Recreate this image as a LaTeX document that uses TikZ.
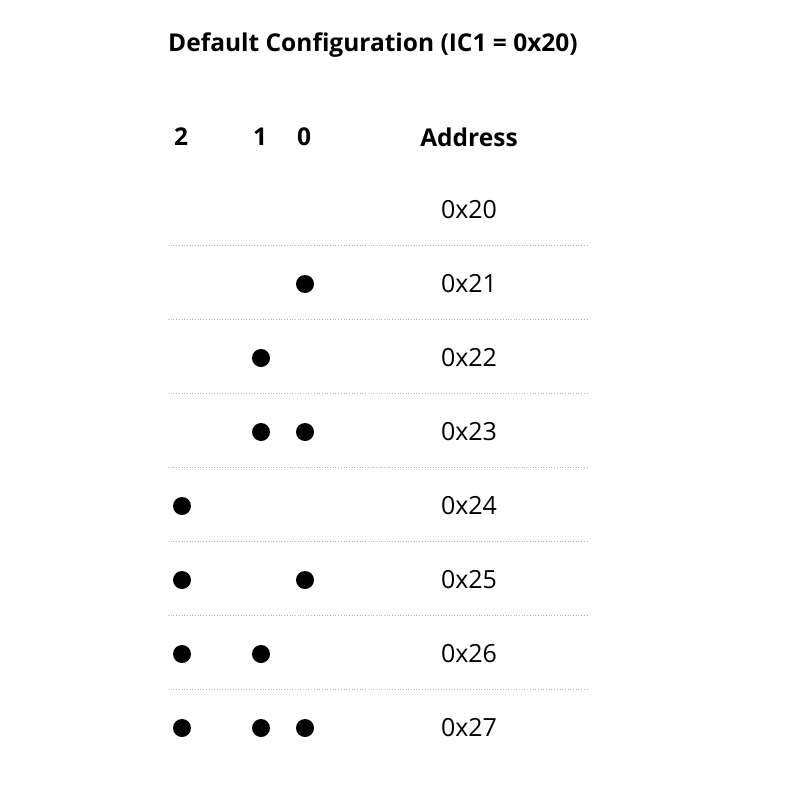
\documentclass[tikz,border=0pt]{standalone}
\usepackage{fontspec}
\setmainfont{Open Sans}
\begin{document}
\begin{tikzpicture}[x=1pt,y=-1pt,
  title/.style={font=\fontsize{24.5}{28}\selectfont\bfseries, anchor=west, inner sep=0},
  head/.style={font=\fontsize{24.5}{28}\selectfont\bfseries, inner sep=0},
  val/.style={font=\fontsize{25}{29}\selectfont, inner sep=0},
  sep/.style={gray!60, dotted, line width=0.7pt},
  pin/.style={circle, fill=black, minimum size=18pt, inner sep=0}]
\useasboundingbox (0,0) rectangle (800,800);
\node[title] (t) at (168,45) {Default Configuration (IC1 = 0x20)};
\node[head] (h2) at (181,137) {2};
\node[head] (h1) at (260,137) {1};
\node[head] (h0) at (304,137) {0};
\node[head] (ha) at (469,137) {Address};
\foreach \i in {0,...,7}{
  \pgfmathsetmacro{\yy}{210+74*\i}
  \node[val] (a\i) at (469,\yy) {0x2\i};
  \pgfmathtruncatemacro{\bz}{mod(\i,2)}
  \pgfmathtruncatemacro{\bo}{mod(floor(\i/2),2)}
  \pgfmathtruncatemacro{\bt}{floor(\i/4)}
  \ifnum\bz=1 \node[pin] (p0\i) at (305,\yy) {};\fi
  \ifnum\bo=1 \node[pin] (p1\i) at (261,\yy) {};\fi
  \ifnum\bt=1 \node[pin] (p2\i) at (182,\yy) {};\fi
}
\foreach \i in {0,...,6}{
  \pgfmathsetmacro{\yy}{245+74*\i}
  \draw[sep] (168,\yy) -- (587,\yy);
}
\end{tikzpicture}
\end{document}
